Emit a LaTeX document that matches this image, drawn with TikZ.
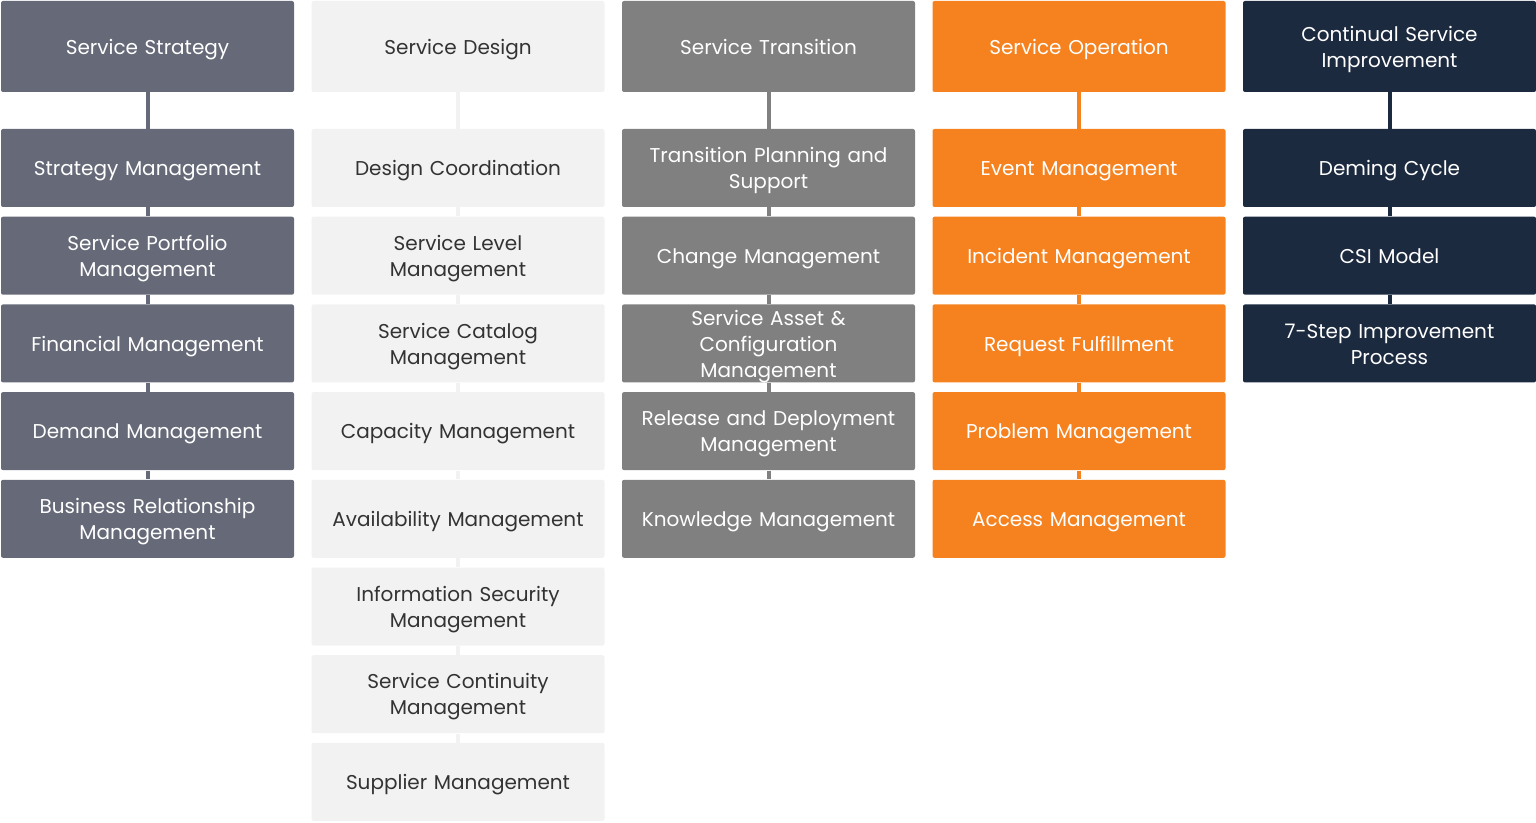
\documentclass[tikz,border=0pt]{standalone}
\usepackage{fontspec}
\setmainfont{Poppins}
\tikzset{
  >=latex,
}
\definecolor{strat}{HTML}{666A78}
\definecolor{design}{HTML}{F2F2F2}
\definecolor{designtxt}{HTML}{333333}
\definecolor{trans}{HTML}{808080}
\definecolor{oper}{HTML}{F5821F}
\definecolor{csi}{HTML}{1C2A40}
\tikzstyle{box}=[rectangle,rounded corners=1pt,minimum width=146.5pt,minimum height=39pt,text width=140pt,align=center,inner xsep=0pt,inner ysep=-3.5pt,font=\fontsize{10}{13}\selectfont,execute at begin node={\rule[-3.9pt]{0pt}{15.5pt}},execute at end node=\strut]
\tikzstyle{head}=[box,minimum height=45.5pt]
\tikzstyle{link}=[line width=2pt]

\begin{document}
\begin{tikzpicture}[x=0.5pt,y=-0.5pt]
    \useasboundingbox (0,0) rectangle (1536,823);
    % service strategy
    \node[head,fill=strat,text=white] (ss) at (147.5,46.5) {Service Strategy};
    \foreach \t [count=\i] in {Strategy Management,{Service Portfolio\\Management},Financial Management,Demand Management,{Business Relationship\\Management}}
      \node[box,fill=strat,text=white] (ss\i) at (147.5,{168+87.7*(\i-1)}) {\t};
    \draw[link,strat] (ss) -- (ss1);
    \foreach \i/\j in {1/2,2/3,3/4,4/5} \draw[link,strat] (ss\i) -- (ss\j);
    % service design
    \node[head,fill=design,text=designtxt] (sd) at (458,46.5) {Service Design};
    \foreach \t [count=\i] in {Design Coordination,{Service Level\\Management},{Service Catalog\\Management},Capacity Management,Availability Management,{Information Security\\Management},{Service Continuity\\Management},Supplier Management}
      \node[box,fill=design,text=designtxt] (sd\i) at (458,{168+87.7*(\i-1)}) {\t};
    \draw[link,design] (sd) -- (sd1);
    \foreach \i/\j in {1/2,2/3,3/4,4/5,5/6,6/7,7/8} \draw[link,design] (sd\i) -- (sd\j);
    % service transition
    \node[head,fill=trans,text=white] (st) at (768.5,46.5) {Service Transition};
    \foreach \t [count=\i] in {{Transition Planning and\\Support},Change Management,{Service Asset \&\\Configuration\\Management},{Release and Deployment\\Management},Knowledge Management}
      \node[box,fill=trans,text=white] (st\i) at (768.5,{168+87.7*(\i-1)}) {\t};
    \draw[link,trans] (st) -- (st1);
    \foreach \i/\j in {1/2,2/3,3/4,4/5} \draw[link,trans] (st\i) -- (st\j);
    % service operation
    \node[head,fill=oper,text=white] (so) at (1079,46.5) {Service Operation};
    \foreach \t [count=\i] in {Event Management,Incident Management,Request Fulfillment,Problem Management,Access Management}
      \node[box,fill=oper,text=white] (so\i) at (1079,{168+87.7*(\i-1)}) {\t};
    \draw[link,oper] (so) -- (so1);
    \foreach \i/\j in {1/2,2/3,3/4,4/5} \draw[link,oper] (so\i) -- (so\j);
    % continual service improvement
    \node[head,fill=csi,text=white] (ci) at (1389.5,46.5) {Continual Service\\Improvement};
    \foreach \t [count=\i] in {Deming Cycle,CSI Model,{7-Step Improvement\\Process}}
      \node[box,fill=csi,text=white] (ci\i) at (1389.5,{168+87.7*(\i-1)}) {\t};
    \draw[link,csi] (ci) -- (ci1);
    \foreach \i/\j in {1/2,2/3} \draw[link,csi] (ci\i) -- (ci\j);
\end{tikzpicture}
\end{document}
